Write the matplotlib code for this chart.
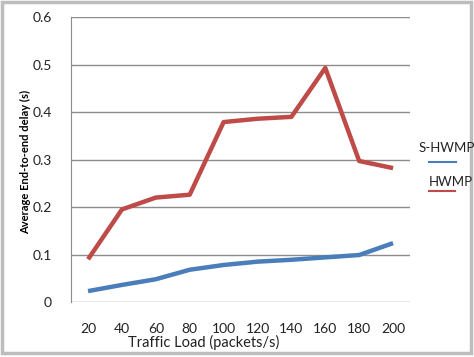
#!/usr/bin/env python

import matplotlib
matplotlib.use("Agg")
import matplotlib.pyplot as plt
from matplotlib.lines import Line2D
from matplotlib.patches import Rectangle

loads = [20, 40, 60, 80, 100, 120, 140, 160, 180, 200]
s_hwmp = [0.023, 0.036, 0.048, 0.068, 0.078, 0.085, 0.089, 0.094, 0.099, 0.124]
hwmp = [0.090, 0.195, 0.220, 0.226, 0.379, 0.386, 0.390, 0.493, 0.297, 0.282]
yticks = [0, 0.1, 0.2, 0.3, 0.4, 0.5, 0.6]
ytick_labels = ["0", "0.1", "0.2", "0.3", "0.4", "0.5", "0.6"]

plt.rcParams['font.family'] = ['Lato', 'DejaVu Sans']

fig = plt.figure(figsize=(4.74, 3.57), dpi=100)
ax = fig.add_axes([0.150, 0.154, 0.715, 0.798])

xs = list(range(len(loads)))
ax.plot(xs, s_hwmp, color='#4a7ebb', lw=3.2, solid_capstyle='butt')
ax.plot(xs, hwmp, color='#be4b48', lw=3.2, solid_capstyle='butt')

ax.set_xlim(-0.5, len(loads) - 0.5)
ax.set_ylim(0, 0.6)
ax.set_yticks(yticks)
ax.set_yticklabels(ytick_labels, fontsize=10, color='#222222')
ax.set_xticks(xs)
ax.set_xticklabels([str(v) for v in loads], fontsize=10, color='#222222')
ax.tick_params(axis='both', length=0)
ax.tick_params(axis='x', pad=15)
ax.tick_params(axis='y', pad=14)
ax.grid(axis='y', color='#8c8c8c', lw=1)
ax.set_axisbelow(True)
for s in ['top', 'right', 'bottom']:
    ax.spines[s].set_visible(False)
ax.spines['left'].set_color('#8c8c8c')

ax.set_ylabel('Average End-to-end delay (s)', fontsize=8, fontweight='bold')
ax.yaxis.set_label_coords(-0.118, 0.49)
fig.text(0.43, 0.042, 'Traffic Load (packets/s)', fontsize=10.5, ha='center', va='center',
         color='#222222')

# legend in Excel style: text above the line sample
fig.text(0.884, 0.585, 'S-HWMP', fontsize=9.5, ha='left', va='center', color='#222222')
fig.add_artist(Line2D([0.905, 0.962], [0.546, 0.546], color='#4a7ebb', lw=1.5))
fig.text(0.905, 0.490, 'HWMP', fontsize=9.5, ha='left', va='center', color='#222222')
fig.add_artist(Line2D([0.905, 0.960], [0.465, 0.465], color='#be4b48', lw=1.5))

fig.add_artist(Rectangle((0.004, 0.01), 0.99, 0.985, transform=fig.transFigure,
                         fill=False, edgecolor='#bdbdbd', lw=2.5))

fig.savefig('out.png', dpi=100)
